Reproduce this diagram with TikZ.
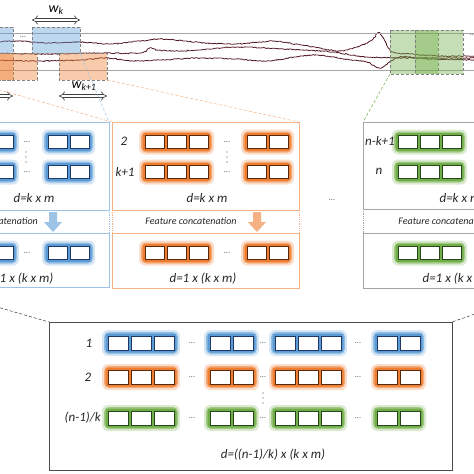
\documentclass[tikz,border=0pt]{standalone}
\usepackage{fontspec}
\setmainfont{Carlito}
\usetikzlibrary{arrows.meta,decorations.pathmorphing}

\definecolor{blueglow}{RGB}{91,155,213}
\definecolor{blueedge}{RGB}{31,56,100}
\definecolor{bluepanel}{RGB}{157,195,230}
\definecolor{orangeglow}{RGB}{237,125,49}
\definecolor{orangeedge}{RGB}{90,40,10}
\definecolor{orangepanel}{RGB}{244,177,131}
\definecolor{greenglow}{RGB}{112,173,71}
\definecolor{greenedge}{RGB}{40,70,30}
\definecolor{greenpanel}{RGB}{165,165,165}
\definecolor{sigcol}{RGB}{85,25,35}

\tikzset{
  cell/.style={draw=#1, fill=white, line width=1pt},
  panel/.style={draw=#1, line width=0.8pt},
  win/.style={fill=#1, fill opacity=.4, draw=gray, densely dashed, line width=0.5pt},
  proj/.style={draw=#1, densely dashed, line width=0.5pt},
  lbl/.style={font=\fontsize{13}{13}\selectfont\itshape, text=black!85, inner sep=0},
  small/.style={font=\fontsize{10}{10}\selectfont\itshape, text=black!85, inner sep=0},
  dots/.style={font=\fontsize{8}{8}\selectfont, text=black!70, inner sep=0},
  trace/.style={draw=sigcol, line width=0.8pt, decorate,
    decoration={random steps, segment length=1.3pt, amplitude=0.5pt}},
  wdim/.style={draw=black!75, double=white, double distance=2.6pt, line width=0.6pt,
    {Implies}-{Implies}},
}

% cell size and pitch
\def\cw{19}\def\ch{13}\def\cp{22}

% glowing group of cells: x, y, n, glow, edge
\newcommand{\featgroup}[5]{%
  \fill[#4, opacity=.25, rounded corners=6pt] (#1-6, #2-\ch/2-6) rectangle (#1+#3*\cp-\cp+\cw+6, #2+\ch/2+6);
  \fill[#4, opacity=.55, rounded corners=5pt] (#1-4, #2-\ch/2-4) rectangle (#1+#3*\cp-\cp+\cw+4, #2+\ch/2+4);
  \fill[#4, rounded corners=3pt] (#1-2.5, #2-\ch/2-2.5) rectangle (#1+#3*\cp-\cp+\cw+2.5, #2+\ch/2+2.5);
  \foreach \i in {1,...,#3}
    \draw[cell=#5] (#1+\i*\cp-\cp, #2-\ch/2) rectangle ++(\cw,\ch);
}

% block arrow between the two boxes of a panel
\newcommand{\concatarrow}[2]{%
  \fill[#2] (#1-4,212) -- (#1+4,212) -- (#1+4,222) -- (#1+9,222) -- (#1,232)
    -- (#1-9,222) -- (#1-4,222) -- cycle;
}

% vertical dots
\newcommand{\vdotsat}[2]{%
  \foreach \d in {-5,0,5}
    \fill[black!70] (#1, #2+\d) circle (0.7);
}

\begin{document}
\begin{tikzpicture}[x=1pt, y=-1pt]
\useasboundingbox (0,0) rectangle (474,474);
\clip (0,0) rectangle (474,474);
\pgfmathsetseed{11}

% signals
\draw[trace] plot[smooth] coordinates {(-5,42) (20,41) (45,43) (80,42) (110,44) (140,41)
  (160,39) (185,41) (205,43) (235,44) (260,42) (275,41) (295,44) (320,48) (340,51)
  (360,46) (372,40) (378,33) (384,39) (392,52) (410,54) (440,56) (480,56)};
\draw[trace] plot[smooth] coordinates {(-5,53) (40,54) (100,53) (140,53) (150,48)
  (157,50) (175,51) (200,50) (233,47) (265,48) (300,50) (333,52) (367,57) (420,58) (480,58)};
\draw[trace] plot[smooth] coordinates {(-5,60) (40,61) (80,60) (107,58) (133,61)
  (160,60) (200,58) (235,59) (267,61) (295,57) (317,55) (345,59) (367,62) (380,68)
  (400,57) (430,59) (480,60)};
\draw[gray!70, line width=0.8pt] (-5,33) -- (480,33);
\draw[gray!70, line width=0.8pt] (-5,70) -- (480,70);

% sliding windows
\draw[win=blueglow] (-35,27) rectangle (13,53);
\draw[win=blueglow] (32,27) rectangle (80,53);
\draw[win=orangeglow] (-35,53) rectangle (13,80);
\draw[win=orangeglow] (-11,53) rectangle (37,80);
\draw[win=orangeglow] (59,53) rectangle (107,80);
\draw[win=greenglow] (390,30) rectangle (438,74);
\draw[win=greenglow] (415,30) rectangle (463,74);
\node[dots] (wdots1) at (23,37) {...};
\node[dots] (wdots2) at (47,61) {...};
\node[dots] (wdots3) at (473,35) {...};

% window widths
\coordinate (wk-l) at (32,20);
\coordinate (wk-r) at (80,20);
\coordinate (wk1-l) at (59,96);
\coordinate (wk1-r) at (107,96);
\coordinate (wk0-l) at (-35,96);
\coordinate (wk0-r) at (13,96);
\draw[wdim] (wk-l) -- (wk-r);
\draw[wdim] (wk1-l) -- (wk1-r);
\draw[wdim] (wk0-l) -- (wk0-r);
\node[font=\fontsize{14}{14}\selectfont\itshape, inner sep=0] (wk) at (56,10) {w\textsubscript{k}};
\node[font=\fontsize{14}{14}\selectfont\itshape, inner sep=0] (wk1) at (84,86) {w\textsubscript{k+1}};

% panel corners
\coordinate (bp-tl) at (-72,122);
\coordinate (bp-tr) at (109,122);
\coordinate (bp-bl) at (-72,287);
\coordinate (op-tl) at (112,122);
\coordinate (op-tr) at (299,122);
\coordinate (gp-tl) at (363,122);
\coordinate (gp-br) at (550,288);
\coordinate (bot-tl) at (49,322);
\coordinate (bot-tr) at (452,322);

% projections
\draw[proj=bluepanel] (80,53) -- (bp-tr);
\draw[proj=orangepanel] (-35,80) -- (op-tl);
\draw[proj=orangepanel] (107,80) -- (op-tr);
\draw[proj=greenglow] (390,74) -- (gp-tl);
\draw[proj=black!80] (bp-bl) -- (bot-tl);
\draw[proj=black!80] (gp-br) -- (bot-tr);

% blue panel
\draw[panel=bluepanel] (bp-tl) rectangle (109,210);
\draw[panel=bluepanel] (-72,233) rectangle (109,287);
\draw[bluepanel, densely dotted, line width=0.8pt] (109,210) -- (109,233);
\foreach \y in {142,172} {
  \featgroup{-50}{\y}{3}{blueglow}{blueedge}
  \featgroup{48}{\y}{2}{blueglow}{blueedge}
  \node[dots] at (27,\y) {...};
}
\vdotsat{26}{157}
\node[lbl] (bd1) at (34,198) {d=k x m};
\node[small, anchor=east] (bfc) at (38,221) {Feature concatenation};
\concatarrow{53}{bluepanel}
\featgroup{-50}{253}{3}{blueglow}{blueedge}
\featgroup{48}{253}{2}{blueglow}{blueedge}
\node[dots] (bld) at (27,253) {...};
\node[lbl] (bd2) at (20,279) {d=1 x (k x m)};

% orange panel
\draw[panel=orangepanel] (op-tl) rectangle (299,210);
\draw[panel=orangepanel] (112,233) rectangle (299,288);
\draw[orangepanel, densely dotted, line width=0.8pt] (112,210) -- (112,233);
\draw[orangepanel, densely dotted, line width=0.8pt] (299,210) -- (299,233);
\foreach \y in {142,172} {
  \featgroup{145}{\y}{3}{orangeglow}{orangeedge}
  \featgroup{247}{\y}{2}{orangeglow}{orangeedge}
  \node[dots] at (227,\y) {...};
}
\node[lbl] (o1) at (124,141) {2};
\node[lbl] (ok) at (125,172) {k+1};
\vdotsat{227}{157}
\node[lbl] (od1) at (207,198) {d=k x m};
\node[small] (ofc) at (191,221) {Feature concatenation};
\concatarrow{257}{orangepanel}
\featgroup{145}{253}{3}{orangeglow}{orangeedge}
\featgroup{247}{253}{2}{orangeglow}{orangeedge}
\node[dots] (old) at (227,253) {...};
\node[lbl] (od2) at (203,279) {d=1 x (k x m)};

\node[dots] (pdots) at (332,200) {...};

% green panel
\draw[panel=greenpanel] (gp-tl) rectangle (550,209);
\draw[panel=greenpanel] (363,233) rectangle (gp-br);
\draw[greenpanel, densely dotted, line width=0.8pt] (363,209) -- (363,233);
\foreach \y in {142,172}
  \featgroup{398}{\y}{3}{greenglow}{greenedge};
\node[lbl, anchor=east] (gn1) at (395,141) {n-k+1};
\node[lbl] (gn) at (379,171) {n};
\node[lbl] (gd1) at (460,198) {d=k x m};
\node[small] (gfc) at (444,221) {Feature concatenation};
\featgroup{398}{253}{3}{greenglow}{greenedge}
\node[lbl] (gd2) at (456,279) {d=1 x (k x m)};

% concatenated features of all windows
\def\cw{20}\def\ch{14}\def\cp{23}
\draw[black!70, line width=0.8pt] (bot-tl) rectangle (452,470);
\foreach \y/\g/\e in {343/blueglow/blueedge, 377/orangeglow/orangeedge, 418/greenglow/greenedge} {
  \featgroup{108}{\y}{3}{\g}{\e}
  \featgroup{210}{\y}{2}{\g}{\e}
  \featgroup{275}{\y}{3}{\g}{\e}
  \featgroup{377}{\y}{2}{\g}{\e}
  \node[dots] at (192,\y) {...};
  \node[dots] at (263,\y) {...};
  \node[dots] at (358,\y) {...};
}
\node[lbl] (r1) at (89,343) {1};
\node[lbl] (r2) at (88,377) {2};
\node[lbl, anchor=east] (rn) at (101,418) {(n-1)/k};
\vdotsat{263}{398}
\node[lbl] (rd) at (273,455) {d=((n-1)/k) x (k x m)};
\end{tikzpicture}
\end{document}
